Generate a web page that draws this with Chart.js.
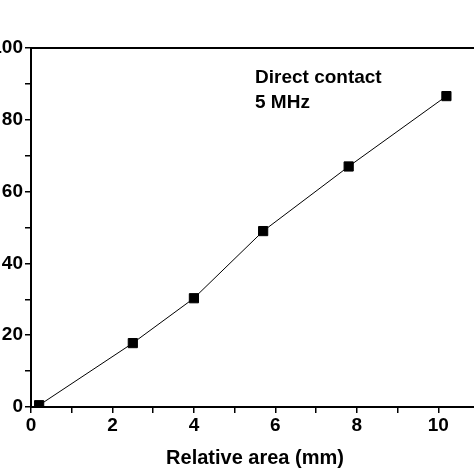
<!DOCTYPE html>
<html><head><script src="https://cdn.jsdelivr.net/npm/chart.js@4"></script>
<style>body{margin:0;overflow:hidden;background:#fff}#w{position:absolute;left:-60px;top:0;width:600px;height:474px}</style></head>
<body><div id="w"><canvas id="c" width="600" height="474"></canvas></div>
<script>
const xValues=[0.2,2.5,4.0,5.7,7.8,10.2];
const yValues=[0.5,17.8,30.3,49.0,67.0,86.6];
const annotationLines=["Direct contact","5 MHz"];
const xTitle="Relative area (mm)";
const font="'Liberation Sans', Arial, sans-serif";
const extras={id:'extras',afterDraw(ch){const c=ch.ctx,a=ch.chartArea;c.save();c.strokeStyle='#000';c.lineWidth=2;
c.beginPath();c.moveTo(a.left-1,a.top);c.lineTo(a.right,a.top);c.stroke();
c.fillStyle='#000';c.font='bold 19px '+font;c.textBaseline='alphabetic';
c.fillText(annotationLines[0],315,83);c.fillText(annotationLines[1],315,108);c.restore();}};
new Chart(document.getElementById('c'),{type:'scatter',
data:{datasets:[{data:xValues.map((x,i)=>({x,y:yValues[i]})),showLine:true,borderColor:'#000',borderWidth:1,
backgroundColor:'#000',pointStyle:'rect',pointRadius:6.5,pointHoverRadius:6.5}]},
options:{animation:false,responsive:false,plugins:{legend:{display:false},tooltip:{enabled:false}},
layout:{padding:{top:48,right:61,left:0,bottom:0}},
scales:{x:{type:'linear',min:0,max:11,afterFit(s){s.height=67;},
ticks:{stepSize:1,autoSkip:false,maxRotation:0,color:'#000',font:{family:font,size:19,weight:'bold'},padding:1,callback:v=>v%2===0?String(v):''},
grid:{drawOnChartArea:false,tickLength:6,color:'#000',lineWidth:1.5},border:{color:'#000',width:2},
title:{display:true,text:xTitle,color:'#000',font:{family:font,size:20,weight:'bold'},padding:{top:6}}},
y:{min:0,max:100,afterFit(s){s.width=91;},
ticks:{stepSize:10,autoSkip:false,color:'#000',font:{family:font,size:19,weight:'bold'},padding:2,callback:v=>v%20===0?String(v):''},
grid:{drawOnChartArea:false,tickLength:6,color:'#000',lineWidth:1.5},border:{color:'#000',width:2}}}},
plugins:[extras]});
</script></body></html>
